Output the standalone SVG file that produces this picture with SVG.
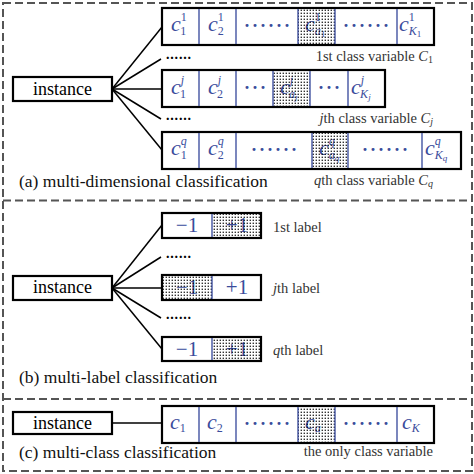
<svg xmlns="http://www.w3.org/2000/svg" width="474" height="474" viewBox="0 0 474 474">
<defs>
<pattern id="dots" width="3" height="3" patternUnits="userSpaceOnUse"><rect x="0.6" y="0.6" width="1.4" height="1.4" fill="#000"/></pattern>
<style>
text{font-family:'Liberation Serif','Times New Roman','DejaVu Serif',serif}
.frame{fill:none;stroke:#555;stroke-width:2;stroke-dasharray:8 4}
.box{fill:#fff;stroke:#000;stroke-width:2.2}
.dv{stroke:#34469a;stroke-width:1.3}
.sh{fill:url(#dots);fill-opacity:0.8}
.ct{fill:#3a4c9c;font-size:22px}
.ci{font-style:italic}
.sp{font-size:12px}
.ss{font-size:9px}
.it{font-style:italic}
.bd{fill:#3a4c9c;font-size:18px;font-weight:bold;text-anchor:middle}
.pm{fill:#3a4c9c;font-size:21px;text-anchor:middle}
.lbl{fill:#333;font-size:14.5px}
.cap{fill:#111;font-size:17.5px}
.inst{fill:#000;font-size:18px;text-anchor:middle}
.kd{fill:#000;font-size:14px;font-weight:bold;letter-spacing:0.8px}
.cn{stroke:#000;stroke-width:1.5;fill:none}
</style>
</defs>
<rect width="474" height="474" fill="#fff"/>
<rect class="frame" x="3" y="3" width="469" height="468"/>
<line class="frame" x1="3" y1="200.5" x2="472" y2="200.5"/>
<line class="frame" x1="3" y1="399" x2="472" y2="399"/>

<g id="connectors">
<line class="cn" x1="112" y1="89" x2="162" y2="27"/>
<line class="cn" x1="112" y1="89" x2="161" y2="59"/>
<line class="cn" x1="112" y1="89" x2="162" y2="89"/>
<line class="cn" x1="112" y1="89" x2="161" y2="119"/>
<line class="cn" x1="112" y1="89" x2="162" y2="150"/>
<line class="cn" x1="112" y1="288" x2="162" y2="225"/>
<line class="cn" x1="112" y1="288" x2="161" y2="257"/>
<line class="cn" x1="112" y1="288" x2="162" y2="288"/>
<line class="cn" x1="112" y1="288" x2="161" y2="318"/>
<line class="cn" x1="112" y1="288" x2="162" y2="349"/>
<line class="cn" x1="112" y1="423" x2="162" y2="423"/>
</g>

<!-- (a) -->
<g id="instance-a">
<rect class="box" x="13" y="77" width="99" height="24"/>
<text class="inst" x="62.5" y="95" font-family="Liberation Serif, serif">instance</text>
</g>

<g id="row-a1">
<rect class="box" x="162" y="8" width="272" height="37"/>
<text class="ct" x="171" y="31"><tspan class="ci">c</tspan><tspan class="sp" dy="-10">1</tspan><tspan class="sp" dx="-6" dy="14">1</tspan></text>
<text class="ct" x="208" y="31"><tspan class="ci">c</tspan><tspan class="sp" dy="-10">1</tspan><tspan class="sp" dx="-6" dy="14">2</tspan></text>
<text class="bd" x="268" y="32" letter-spacing="2">······</text>
<text class="ct" x="305" y="31"><tspan class="ci">c</tspan><tspan class="sp" dy="-10">1</tspan><tspan class="sp it" dx="-6" dy="14">a</tspan><tspan class="ss" dy="2">1</tspan></text>
<rect class="sh" x="298" y="9" width="37" height="35"/>
<text class="bd" x="367" y="32" letter-spacing="2">······</text>
<text class="ct" x="399" y="31"><tspan class="ci">c</tspan><tspan class="sp" dy="-10">1</tspan><tspan class="sp it" dx="-6" dy="14">K</tspan><tspan class="ss" dy="2">1</tspan></text>
<line class="dv" x1="199" y1="9" x2="199" y2="44"/>
<line class="dv" x1="236" y1="9" x2="236" y2="44"/>
<line class="dv" x1="298" y1="9" x2="298" y2="44"/>
<line class="dv" x1="335" y1="9" x2="335" y2="44"/>
<line class="dv" x1="397" y1="9" x2="397" y2="44"/>
</g>
<text class="kd" x="166" y="59">......</text>
<text class="lbl" x="433" y="61" text-anchor="end">1st class variable <tspan class="it">C</tspan><tspan font-size="10" dy="2">1</tspan></text>

<g id="row-aj">
<rect class="box" x="162" y="70" width="223" height="37"/>
<text class="ct" x="171" y="94"><tspan class="ci">c</tspan><tspan class="sp it" dy="-10">j</tspan><tspan class="sp" dx="-4" dy="14">1</tspan></text>
<text class="ct" x="208" y="94"><tspan class="ci">c</tspan><tspan class="sp it" dy="-10">j</tspan><tspan class="sp" dx="-4" dy="14">2</tspan></text>
<text class="bd" x="256" y="94" letter-spacing="2">···</text>
<text class="ct" x="280" y="94"><tspan class="ci">c</tspan><tspan class="sp it" dy="-10">j</tspan><tspan class="sp it" dx="-4" dy="14">a</tspan><tspan class="ss it" dy="2">j</tspan></text>
<rect class="sh" x="273" y="71" width="37" height="35"/>
<text class="bd" x="330" y="94" letter-spacing="2">···</text>
<text class="ct" x="351" y="94"><tspan class="ci">c</tspan><tspan class="sp it" dy="-10">j</tspan><tspan class="sp it" dx="-4" dy="14">K</tspan><tspan class="ss it" dy="2">j</tspan></text>
<line class="dv" x1="199" y1="71" x2="199" y2="106"/>
<line class="dv" x1="236" y1="71" x2="236" y2="106"/>
<line class="dv" x1="273" y1="71" x2="273" y2="106"/>
<line class="dv" x1="310" y1="71" x2="310" y2="106"/>
<line class="dv" x1="348" y1="71" x2="348" y2="106"/>
</g>
<text class="kd" x="166" y="120">......</text>
<text class="lbl" x="433" y="123" text-anchor="end"><tspan class="it">j</tspan>th class variable <tspan class="it">C</tspan><tspan class="it" font-size="10" dy="2">j</tspan></text>

<g id="row-aq">
<rect class="box" x="162" y="132" width="299" height="37"/>
<text class="ct" x="171" y="155"><tspan class="ci">c</tspan><tspan class="sp it" dy="-10">q</tspan><tspan class="sp" dx="-6" dy="14">1</tspan></text>
<text class="ct" x="208" y="155"><tspan class="ci">c</tspan><tspan class="sp it" dy="-10">q</tspan><tspan class="sp" dx="-6" dy="14">2</tspan></text>
<text class="bd" x="275" y="156" letter-spacing="2">······</text>
<text class="ct" x="319" y="155"><tspan class="ci">c</tspan><tspan class="sp it" dy="-10">q</tspan><tspan class="sp it" dx="-6" dy="14">a</tspan><tspan class="ss it" dy="2">q</tspan></text>
<rect class="sh" x="312" y="133" width="36" height="35"/>
<text class="bd" x="386" y="156" letter-spacing="2">······</text>
<text class="ct" x="425" y="155"><tspan class="ci">c</tspan><tspan class="sp it" dy="-10">q</tspan><tspan class="sp it" dx="-6" dy="14">K</tspan><tspan class="ss it" dy="2">q</tspan></text>
<line class="dv" x1="199" y1="133" x2="199" y2="168"/>
<line class="dv" x1="236" y1="133" x2="236" y2="168"/>
<line class="dv" x1="312" y1="133" x2="312" y2="168"/>
<line class="dv" x1="348" y1="133" x2="348" y2="168"/>
<line class="dv" x1="422" y1="133" x2="422" y2="168"/>
</g>
<text class="lbl" x="433" y="185" text-anchor="end"><tspan class="it">q</tspan>th class variable <tspan class="it">C</tspan><tspan class="it" font-size="10" dy="2">q</tspan></text>
<text class="cap" x="19" y="187">(a) multi-dimensional classification</text>

<!-- (b) -->
<g id="instance-b">
<rect class="box" x="13" y="276" width="99" height="24"/>
<text class="inst" x="62.5" y="293">instance</text>
</g>

<g id="label-b1">
<rect class="box" x="162" y="213" width="99" height="25"/>
<text class="pm" x="187" y="232">−1</text>
<text class="pm" x="237" y="232">+1</text>
<rect class="sh" x="212" y="214" width="48" height="23"/>
<line class="dv" x1="212" y1="214" x2="212" y2="237"/>
</g>
<text class="lbl" x="273" y="232">1st label</text>
<text class="kd" x="166" y="258">......</text>

<g id="label-bj">
<rect class="box" x="162" y="275" width="99" height="25"/>
<text class="pm" x="187" y="294">−1</text>
<rect class="sh" x="163" y="276" width="49" height="23"/>
<text class="pm" x="237" y="294">+1</text>
<line class="dv" x1="212" y1="276" x2="212" y2="299"/>
</g>
<text class="lbl" x="273" y="293"><tspan class="it">j</tspan>th label</text>
<text class="kd" x="166" y="319">......</text>

<g id="label-bq">
<rect class="box" x="162" y="337" width="99" height="24"/>
<text class="pm" x="187" y="356">−1</text>
<text class="pm" x="237" y="356">+1</text>
<rect class="sh" x="212" y="338" width="48" height="22"/>
<line class="dv" x1="212" y1="338" x2="212" y2="360"/>
</g>
<text class="lbl" x="273" y="355"><tspan class="it">q</tspan>th label</text>
<text class="cap" x="19" y="383">(b) multi-label classification</text>

<!-- (c) -->
<g id="instance-c">
<rect class="box" x="13" y="412" width="99" height="22"/>
<text class="inst" x="62.5" y="429">instance</text>
</g>

<g id="row-c">
<rect class="box" x="162" y="406" width="272" height="37"/>
<text class="ct" x="170" y="429"><tspan class="ci">c</tspan><tspan class="sp" dy="3">1</tspan></text>
<text class="ct" x="207" y="429"><tspan class="ci">c</tspan><tspan class="sp" dy="3">2</tspan></text>
<text class="bd" x="268" y="430" letter-spacing="2">······</text>
<text class="ct" x="305" y="429"><tspan class="ci">c</tspan><tspan class="sp it" dy="3">a</tspan></text>
<rect class="sh" x="298" y="407" width="37" height="35"/>
<text class="bd" x="367" y="430" letter-spacing="2">······</text>
<text class="ct" x="402" y="429"><tspan class="ci">c</tspan><tspan class="sp it" dy="3">K</tspan></text>
<line class="dv" x1="199" y1="407" x2="199" y2="442"/>
<line class="dv" x1="236" y1="407" x2="236" y2="442"/>
<line class="dv" x1="298" y1="407" x2="298" y2="442"/>
<line class="dv" x1="335" y1="407" x2="335" y2="442"/>
<line class="dv" x1="397" y1="407" x2="397" y2="442"/>
</g>
<text class="lbl" x="433" y="456" text-anchor="end">the only class variable</text>
<text class="cap" x="19" y="458">(c) multi-class classification</text>
</svg>
